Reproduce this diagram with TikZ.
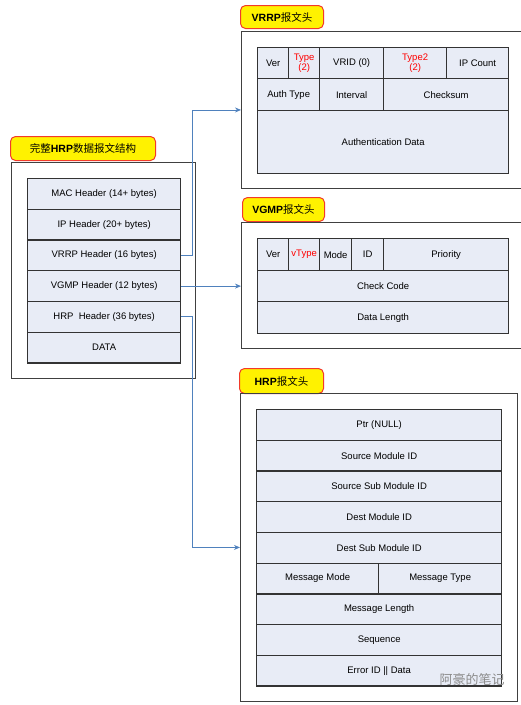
\documentclass[tikz,border=0pt]{standalone}
\usepackage{fontspec}
\setmainfont{Liberation Sans}
\newfontfamily\cjk{Noto Sans CJK SC}
\usepackage{tikz}
\usetikzlibrary{arrows.meta}

\definecolor{cellfill}{HTML}{E8ECF6}
\definecolor{linkblue}{HTML}{4F81BD}
\definecolor{tagred}{HTML}{F23A2A}

\tikzset{
	cell/.style = {draw=black!80, line width=1.3pt, fill=cellfill, anchor=north west,
		inner sep=0pt, align=center, font=\fontsize{9.5}{10}\selectfont},
	frame/.style = {draw=black!75, line width=0.9pt, anchor=north west, inner sep=0pt},
	tag/.style = {draw=tagred, line width=1pt, fill=yellow, rounded corners=5pt,
		anchor=north west, inner sep=0pt, font=\fontsize{10.5}{12}\selectfont},
	link/.style = {draw=linkblue, line width=0.8pt, -{Stealth[length=6pt,width=5pt]}},
	redtext/.style = {text=red}
}

\begin{document}
\begin{tikzpicture}[x=1pt,y=-1pt]
		\useasboundingbox (0,0) rectangle (521,705);
		% complete HRP packet
		\node[tag, minimum width=145pt, minimum height=24pt] (tagall) at (10,136)
			{{\cjk 完整}\textbf{HRP}{\cjk 数据报文结构}};
		\node[frame, minimum width=184pt, minimum height=216pt] (allbox) at (11,162) {};
		\foreach \t [count=\i] in {MAC Header (14+ bytes), IP Header (20+ bytes),
				VRRP Header (16 bytes), VGMP Header (12 bytes), HRP\ \ Header (36 bytes), DATA}
			\node[cell, minimum width=153pt, minimum height=30.7pt] (hdr\i) at (27,{178+30.7*(\i-1)}) {\t};

		% VRRP header
		\node[tag, minimum width=83pt, minimum height=23pt] (tagvrrp) at (240,5)
			{\textbf{VRRP}{\cjk 报文头}};
		\node[frame, minimum width=289pt, minimum height=157pt] (vrrpbox) at (241,31) {};
		\node[cell, minimum width=31pt, minimum height=31pt] (vver) at (257,47) {Ver};
		\node[cell, minimum width=31pt, minimum height=31pt, redtext] (vtype) at (288,47) {Type\\(2)};
		\node[cell, minimum width=64pt, minimum height=31pt] (vrid) at (319,47) {VRID (0)};
		\node[cell, minimum width=63pt, minimum height=31pt, redtext] (vtype2) at (383,47) {Type2\\(2)};
		\node[cell, minimum width=62pt, minimum height=31pt] (vcount) at (446,47) {IP Count};
		\node[cell, minimum width=62pt, minimum height=32pt] (vauth) at (257,78) {Auth Type};
		\node[cell, minimum width=64pt, minimum height=32pt] (vint) at (319,78) {Interval};
		\node[cell, minimum width=125pt, minimum height=32pt] (vsum) at (383,78) {Checksum};
		\node[cell, minimum width=251pt, minimum height=63pt] (vdata) at (257,110) {Authentication Data};

		% VGMP header
		\node[tag, minimum width=82pt, minimum height=24pt] (tagvgmp) at (242,197)
			{\textbf{VGMP}{\cjk 报文头}};
		\node[frame, minimum width=289pt, minimum height=126pt] (vgmpbox) at (241,222) {};
		\node[cell, minimum width=31pt, minimum height=32pt] (gver) at (257,238) {Ver};
		\node[cell, minimum width=31pt, minimum height=32pt, redtext] (gtype) at (288,238) {vType};
		\node[cell, minimum width=32pt, minimum height=32pt] (gmode) at (319,238) {Mode};
		\node[cell, minimum width=32pt, minimum height=32pt] (gid) at (351,238) {ID};
		\node[cell, minimum width=125pt, minimum height=32pt] (gprio) at (383,238) {Priority};
		\node[cell, minimum width=251pt, minimum height=31pt] (gcheck) at (257,270) {Check Code};
		\node[cell, minimum width=251pt, minimum height=32pt] (glen) at (257,301) {Data Length};

		% HRP header
		\node[tag, minimum width=84pt, minimum height=25pt] (taghrp) at (239,368)
			{\textbf{HRP}{\cjk 报文头}};
		\node[frame, minimum width=277pt, minimum height=308pt] (hrpbox) at (240,393) {};
		\foreach \t [count=\i] in {Ptr (NULL), Source Module ID, Source Sub Module ID,
				Dest Module ID, Dest Sub Module ID}
			\node[cell, minimum width=245pt, minimum height=30.7pt] (h\i) at (256,{409+30.7*(\i-1)}) {\t};
		\node[cell, minimum width=122pt, minimum height=30.7pt] (hmode) at (256,562.5) {Message Mode};
		\node[cell, minimum width=123pt, minimum height=30.7pt] (htype) at (378,562.5) {Message Type};
		\foreach \t [count=\i from 7] in {Message Length, Sequence, Error ID || Data}
			\node[cell, minimum width=245pt, minimum height=30.7pt] (h\i) at (256,{409+30.7*(\i-1)}) {\t};

		% watermark
		\node[text=black!45, font=\cjk\fontsize{13}{14}\selectfont] (mark) at (472,680) {阿豪的笔记};

		% links
		\draw[link] (hdr3.east) -- ++(11,0) |- (vrrpbox.west);
		\draw[link] (hdr4.east) -- (hdr4.east -| vgmpbox.west);
		\draw[link] (hdr5.east) -- ++(11,0) |- (hrpbox.west);
	\end{tikzpicture}
\end{document}
